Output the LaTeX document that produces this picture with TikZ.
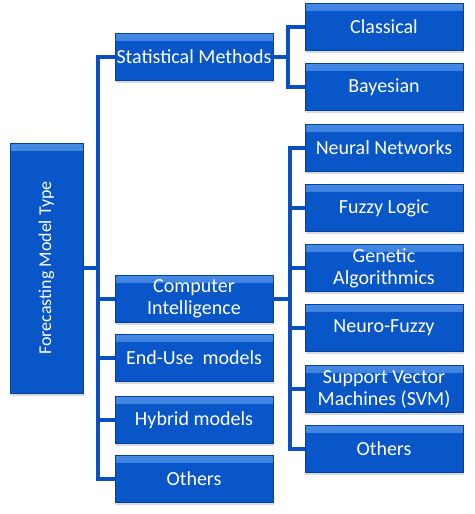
\documentclass[tikz,border=0pt]{standalone}
\usepackage{fontspec}
\setmainfont{Carlito}
\usetikzlibrary{positioning}
\usetikzlibrary{shadows}
\definecolor{boxblue}{RGB}{8,86,200}
\definecolor{boxedge}{RGB}{0,64,160}
\definecolor{boxlight}{RGB}{70,138,228}
\definecolor{linkblue}{RGB}{8,80,192}

\begin{document}
\begin{tikzpicture}[x=1pt,y=-1pt,
		box/.style={draw=boxedge, line width=0.8pt, fill=boxblue, text=white, align=center,
			font=\fontsize{20}{22}\selectfont, inner sep=1pt,
			minimum width=158pt, minimum height=47pt,
			drop shadow={shadow xshift=1pt, shadow yshift=-2.5pt, opacity=0.3},
			path picture={\shade [top color=boxlight, bottom color=boxblue]
				(path picture bounding box.north west) rectangle ([yshift=-7pt]path picture bounding box.north east);}},
		link/.style={draw=linkblue, line width=3.2pt}]
	\useasboundingbox (0,0) rectangle (474,514);

	% root
	\node [box, minimum width=73pt, minimum height=250pt, font=\fontsize{18}{22}\selectfont] (root) at (46.5,268) {\rotatebox{90}{Forecasting Model Type}};

	% middle column
	\node [box] (stat) at (194,57) {Statistical Methods};
	\node [box] (ci) at (194,299) {Computer\\Intelligence};
	\node [box] (enduse) at (194,358) {End-Use\ \ models};
	\node [box] (hybrid) at (194,420) {Hybrid models};
	\node [box] (othersA) at (194,479) {Others};

	% right column
	\node [box] (classical) at (384,27) {Classical};
	\node [box] (bayes) at (384,87) {Bayesian};
	\node [box] (neural) at (384,148) {Neural Networks};
	\node [box] (fuzzy) at (384,208) {Fuzzy Logic};
	\node [box] (genetic) at (384,268) {Genetic\\Algorithmics};
	\node [box] (neurofuzzy) at (384,328) {Neuro-Fuzzy};
	\node [box] (svm) at (384,389) {Support Vector\\Machines (SVM)};
	\node [box] (othersB) at (384,449) {Others};

	% connectors
	\coordinate (trunk) at (98,268);
	\coordinate (statfork) at (288,57);
	\coordinate (cifork) at (290,299);

	\draw [link] (root.east) -- (trunk);
	\foreach \n in {stat,ci,enduse,hybrid,othersA}
		\draw [link] (trunk) |- (\n.west);

	\draw [link] (stat.east) -- (statfork);
	\foreach \n in {classical,bayes}
		\draw [link] (statfork) |- (\n.west);

	\draw [link] (ci.east) -- (cifork);
	\foreach \n in {neural,fuzzy,genetic,neurofuzzy,svm,othersB}
		\draw [link] (cifork) |- (\n.west);
\end{tikzpicture}
\end{document}
